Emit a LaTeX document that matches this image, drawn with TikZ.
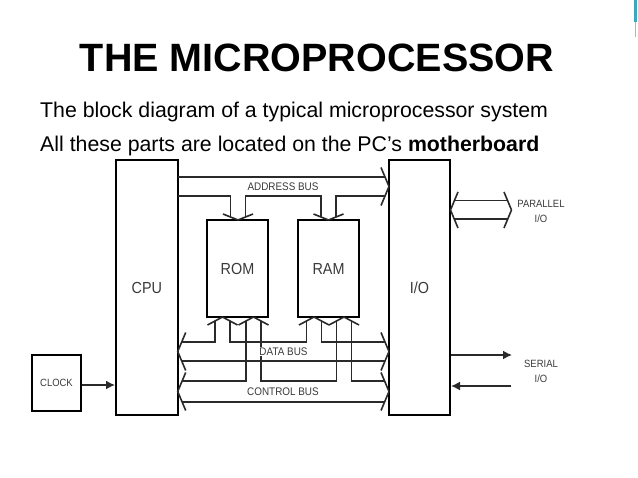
\documentclass[tikz,border=0pt]{standalone}
\usepackage{fontspec}
\setmainfont{Liberation Sans}
\usetikzlibrary{arrows.meta}
\definecolor{ln}{HTML}{2A2A2A}
\definecolor{tx}{HTML}{3A3A3A}
\definecolor{tealbar}{HTML}{3AA9C0}
\newcommand{\narrow}[1]{\scalebox{0.9}[1]{#1}}
\tikzset{
 box/.style={draw=black, line width=2pt, inner sep=0pt, font=\fontsize{16}{18}\selectfont, text=tx},
 bus/.style={draw=ln, line width=1.6pt, line join=miter},
 head/.style={draw=ln, line width=1.6pt, line join=round},
 lbl/.style={font=\fontsize{11}{12}\selectfont, text=tx, inner sep=0.5pt},
 sarrow/.style={draw=ln, line width=1.6pt, -{Latex[length=9pt,width=9pt]}},
}
\begin{document}
\begin{tikzpicture}[x=1pt,y=-1pt]
\useasboundingbox (0,0) rectangle (638,478);
\fill[white] (0,0) rectangle (638,478);
\fill[tealbar] (633.5,0) rectangle (636.5,22);
\draw[gray!60, line width=0.6pt] (635,22) -- (635,37);
% texts
\node[anchor=base, font=\bfseries\fontsize{39.5}{44}\selectfont, inner sep=0pt] (title) at (317,72) {THE MICROPROCESSOR};
\node[anchor=base west, font=\fontsize{21.3}{24}\selectfont, inner sep=0pt] (sub1) at (40,118) {The block diagram of a typical microprocessor system};
\node[anchor=base west, font=\fontsize{21.3}{24}\selectfont, inner sep=0pt] (sub2) at (40,152) {All these parts are located on the PC’s \textbf{motherboard}};
% boxes
\node[box, minimum width=61.7pt, minimum height=255pt] (CPU) at (146.85,287.5) {\narrow{CPU}};
\node[box, minimum width=61pt, minimum height=255pt] (IO) at (419.5,287.5) {\narrow{I/O}};
\node[box, minimum width=61pt, minimum height=97pt] (ROM) at (237.5,268.5) {\narrow{ROM}};
\node[box, minimum width=61pt, minimum height=97pt] (RAM) at (328.5,268.5) {\narrow{RAM}};
\node[box, minimum width=49pt, minimum height=56pt, font=\fontsize{10.5}{11}\selectfont] (CLK) at (56.5,383) {\narrow{CLOCK}};
% address bus
\draw[bus] (177.7,177) -- (385,177);
\draw[bus] (177.7,196) -- (230.5,196) -- (230.5,217);
\draw[bus] (245.5,217) -- (245.5,196) -- (321,196) -- (321,217);
\draw[bus] (336,217) -- (336,196) -- (385,196);
\draw[head] (223,214) -- (238,220) -- (253,214);
\draw[head] (313.5,214) -- (328.5,220) -- (343.5,214);
\draw[head] (381,167.5) -- (389,186.5) -- (381,205.5);
\node[lbl] (ab) at (283,186.5) {\narrow{ADDRESS BUS}};
% control bus branches (drawn first, so the data bus label sits over them)
\draw[bus] (182,381) -- (246,381) -- (246,321);
\draw[bus] (261,321) -- (261,381) -- (336.5,381) -- (336.5,321);
\draw[bus] (351.5,321) -- (351.5,381) -- (384.6,381);
\draw[bus] (182,402) -- (384.6,402);
\draw[head] (185.7,372.5) -- (177.7,391.5) -- (185.7,410.5);
\draw[head] (381,372.5) -- (389,391.5) -- (381,410.5);
\node[lbl] (cb) at (283,391.5) {\narrow{CONTROL BUS}};
% data bus
\draw[bus] (181.7,342) -- (215,342) -- (215,321);
\draw[bus] (230,321) -- (230,342) -- (306.5,342) -- (306.5,321);
\draw[bus] (321.5,321) -- (321.5,342) -- (385,342);
\draw[bus] (181.7,361) -- (385,361);
\draw[head] (185.7,332.5) -- (177.7,351.5) -- (185.7,370.5);
\draw[head] (381,332.5) -- (389,351.5) -- (381,370.5);
\node[lbl, fill=white] (db) at (283.5,351.5) {\narrow{DATA BUS}};
% arrows into ROM / RAM from below
\draw[head] (207.5,325) -- (222.5,317) -- (237.5,325);
\draw[head] (238.5,325) -- (253.5,317) -- (268.5,325);
\draw[head] (299,325) -- (314,317) -- (329,325);
\draw[head] (329,325) -- (344,317) -- (359,325);
% clock
\draw[sarrow] ([yshift=-2pt]CLK.east) -- ([yshift=-2pt]CPU.west |- CLK.east);
% parallel I/O
\draw[bus] (454.4,200.7) -- (507.6,200.7);
\draw[bus] (454.4,219.3) -- (507.6,219.3);
\draw[head] (458,192) -- (450.5,210) -- (458,228);
\draw[head] (504,192) -- (511.5,210) -- (504,228);
\node[lbl, font=\fontsize{10.5}{15}\selectfont, align=center] (par) at (541,211.5) {\narrow{PARALLEL}\\\narrow{I/O}};
% serial I/O
\coordinate (s1) at (512,355);
\coordinate (s2) at (511,386);
\draw[sarrow] (IO.east |- s1) -- (s1);
\draw[sarrow] (s2) -- (IO.east |- s2);
\node[lbl, font=\fontsize{10.5}{15}\selectfont, align=center] (ser) at (541,371.5) {\narrow{SERIAL}\\\narrow{I/O}};
\end{tikzpicture}
\end{document}
